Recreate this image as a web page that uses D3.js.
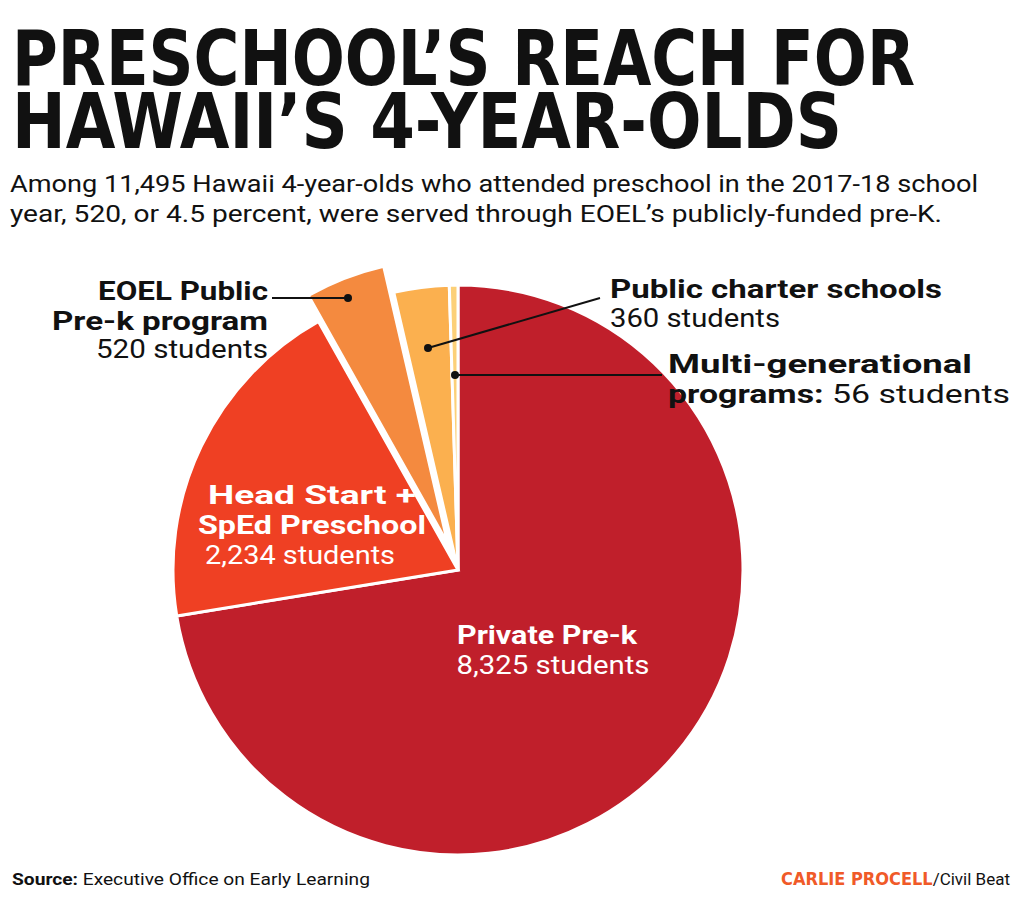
<!DOCTYPE html>
<html><head><meta charset="utf-8">
<script src="https://cdn.jsdelivr.net/npm/d3@7"></script>
<style>body{margin:0;background:#fff}</style></head>
<body><svg id="c" width="1024" height="897"></svg>
<script>
const categories=["Private Pre-k","Head Start + SpEd Preschool","EOEL Public Pre-k program","Public charter schools","Multi-generational programs"];
const values=[8325,2234,520,360,56];
const colors=["#c01f2b","#ef4023","#f48a3f","#fbb04f","#fcd078"];
const svg=d3.select("#c");
const cx=458,cy=570,R=285;
const pie=d3.pie().sort(null).value(d=>d)(values);
const arc=d3.arc().innerRadius(0).outerRadius(R);
const g=svg.append("g").attr("transform",`translate(${cx},${cy})`);
g.selectAll("path").data(pie).join("path")
 .attr("d",arc).attr("fill",(d,i)=>colors[i]).attr("stroke","#fff").attr("stroke-width",3)
 .attr("transform",(d,i)=>{if(i!==2)return null;const a=(d.startAngle+d.endAngle)/2;return `translate(${Math.sin(a)*28},${-Math.cos(a)*28})`;});
const TF="'Liberation Sans Narrow','DejaVu Sans Condensed',sans-serif";
const BF="Roboto,'Noto Sans',sans-serif";
function t(x,y,s,o){const e=svg.append("text").attr("x",x).attr("y",y).text(s)
 .attr("font-family",o.f||BF).attr("font-size",o.s||26).attr("font-weight",o.w||400).attr("fill",o.c||"#111").attr("text-anchor",o.a||"start");
 if(o.l)e.attr("textLength",o.l).attr("lengthAdjust","spacingAndGlyphs");return e;}
t(12,85,"PRESCHOOL’S REACH FOR",{f:TF,s:76,w:700,l:903});
t(12,148,"HAWAII’S 4-YEAR-OLDS",{f:TF,s:76,w:700,l:830});
t(10,192,"Among 11,495 Hawaii 4-year-olds who attended preschool in the 2017-18 school",{s:23,l:968});
t(10,222,"year, 520, or 4.5 percent, were served through EOEL’s publicly-funded pre-K.",{s:23,l:932});
function lead(x1,y1,x2,y2){svg.append("line").attr("x1",x1).attr("y1",y1).attr("x2",x2).attr("y2",y2).attr("stroke","#111").attr("stroke-width",2);
 svg.append("circle").attr("cx",x1).attr("cy",y1).attr("r",4).attr("fill","#111");}
lead(348,298,272,298);
lead(428,348,600,298);
lead(455,375,662,375);
t(268,300,"EOEL Public",{w:700,a:"end",l:170});
t(268,330,"Pre-k program",{w:700,a:"end",l:216});
t(268,358,"520 students",{a:"end",l:172});
t(610,298,"Public charter schools",{w:700,l:332});
t(610,327,"360 students",{l:170});
t(668,373,"Multi-generational",{w:700,l:304});
const p=t(668,403,"programs:",{w:700,l:342});p.append("tspan").attr("font-weight",400).text(" 56 students");
t(312,504,"Head Start +",{w:700,c:"#fff",a:"middle",l:208});
t(312,534,"SpEd Preschool",{w:700,c:"#fff",a:"middle",l:228});
t(300,564,"2,234 students",{c:"#fff",a:"middle",l:190});
t(547,644,"Private Pre-k",{w:700,c:"#fff",a:"middle",l:180});
t(553,674,"8,325 students",{c:"#fff",a:"middle",l:193});
const s=t(12,885,"Source:",{s:17,w:700,l:358});s.append("tspan").attr("font-weight",400).text(" Executive Office on Early Learning");
const r=t(1010,885,"CARLIE PROCELL",{s:18,w:700,a:"end",c:"#f05a28",f:TF});r.append("tspan").attr("fill","#111").attr("font-weight",400).attr("font-family",BF).attr("font-size",17).text("/Civil Beat");
</script></body></html>
